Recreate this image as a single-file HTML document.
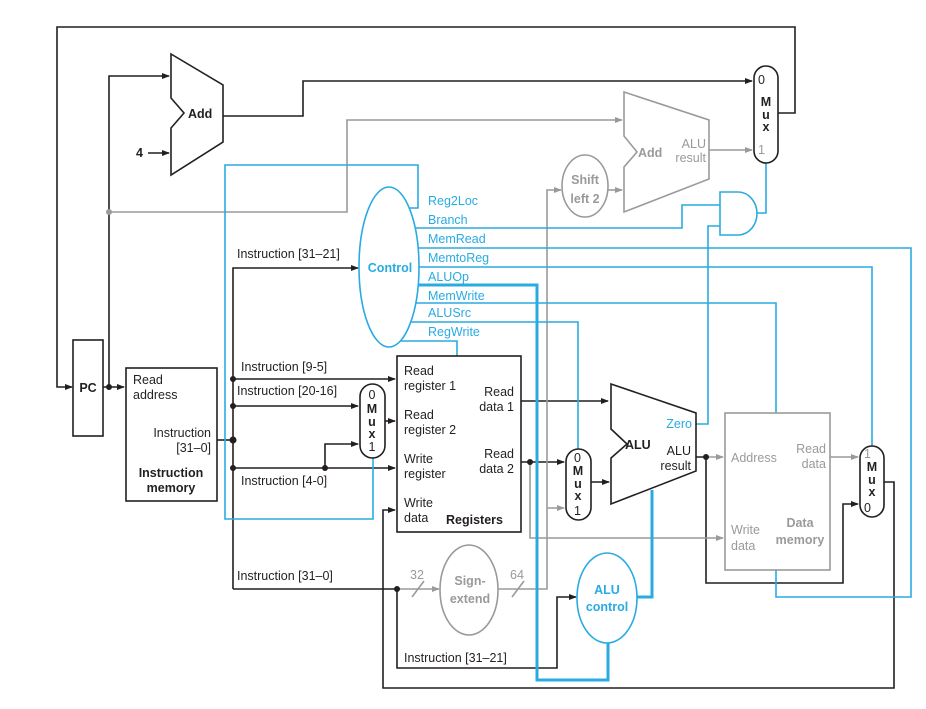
<!DOCTYPE html>
<html><head><meta charset="utf-8"><style>
html,body{margin:0;padding:0;background:#fff;}
svg{display:block;font-family:"Liberation Sans",Arial,sans-serif;}
.k{stroke:#231f20;stroke-width:1.6;fill:none}
.g{stroke:#9a9a9a;stroke-width:1.6;fill:none}
.b{stroke:#29abe2;stroke-width:1.6;fill:none}
.bt{stroke:#29abe2;stroke-width:3;fill:none}
text{font-size:12.5px;fill:#231f20}
.tb{fill:#29abe2}
.tg{fill:#9a9a9a}
.bold{font-weight:bold}
</style></head><body>
<svg width="926" height="709" viewBox="0 0 926 709" xmlns="http://www.w3.org/2000/svg">
<defs>
<marker id="ak" markerWidth="8" markerHeight="6" refX="7" refY="3" orient="auto" markerUnits="userSpaceOnUse"><path d="M0,0 L8,3 L0,6 Z" fill="#231f20"/></marker>
<marker id="ag" markerWidth="8" markerHeight="6" refX="7" refY="3" orient="auto" markerUnits="userSpaceOnUse"><path d="M0,0 L8,3 L0,6 Z" fill="#9a9a9a"/></marker>
</defs>

<!-- black wires -->
<path class="k" d="M778,113 H795 V27 H57 V387 H72" marker-end="url(#ak)"/>
<path class="k" d="M103,387 H124" marker-end="url(#ak)"/>
<path class="k" d="M109,387 V76 H169" marker-end="url(#ak)"/>
<path class="k" d="M148,153 H169" marker-end="url(#ak)"/>
<path class="k" d="M223,116 H303 V81 H752" marker-end="url(#ak)"/>
<path class="k" d="M217,440 H233"/>
<path class="k" d="M233,589 V268 H358" marker-end="url(#ak)"/>
<path class="k" d="M233,379 H395" marker-end="url(#ak)"/>
<path class="k" d="M233,406 H358" marker-end="url(#ak)"/>
<path class="k" d="M233,468 H395" marker-end="url(#ak)"/>
<path class="k" d="M325,468 V444 H358" marker-end="url(#ak)"/>
<path class="k" d="M385,421 H395" marker-end="url(#ak)"/>
<path class="k" d="M233,589 H397"/>
<path class="k" d="M397,589 V668 H557 V597 H576" marker-end="url(#ak)"/>
<path class="k" d="M884,482 H894 V688 H383 V510 H395" marker-end="url(#ak)"/>
<path class="k" d="M521,401 H608" marker-end="url(#ak)"/>
<path class="k" d="M521,462 H564" marker-end="url(#ak)"/>
<path class="k" d="M591,482 H609" marker-end="url(#ak)"/>
<path class="k" d="M696,457 H706 V583 H843 V504 H858" marker-end="url(#ak)"/>

<!-- gray wires -->
<path class="g" d="M109,212 H347 V120 H622" marker-end="url(#ag)"/>
<path class="g" d="M709,150 H752" marker-end="url(#ag)"/>
<path class="g" d="M608,190 H622" marker-end="url(#ag)"/>
<path class="g" d="M498,589 H547 V190 H561" marker-end="url(#ag)"/>
<path class="g" d="M547,508 H564" marker-end="url(#ag)"/>
<path class="g" d="M530,462 V538 H723" marker-end="url(#ag)"/>
<path class="g" d="M706,457 H723" marker-end="url(#ag)"/>
<path class="g" d="M830,457 H858" marker-end="url(#ag)"/>
<path class="g" d="M397,589 H439" marker-end="url(#ag)"/>
<path class="g" d="M412,597 L424,581 M512,597 L524,581"/>

<!-- blue wires -->
<path class="b" d="M410,208 H418 V165 H225 V519 H373 V458"/>
<path class="b" d="M405,228 H682 V205 H722"/>
<path class="b" d="M405,248 H911 V597 H776 V570"/>
<path class="b" d="M405,267 H872 V446"/>
<path class="bt" d="M405,285 H537 V680 H608 V642"/>
<path class="b" d="M405,303 H776 V413"/>
<path class="b" d="M405,322 H578 V449"/>
<path class="b" d="M395,341 H457 V356"/>
<path class="b" d="M696,424 H708 V226 H722"/>
<path class="b" d="M757,213 H766 V163"/>
<path class="bt" d="M652,490 V597 H637"/>

<!-- dots -->
<g fill="#231f20">
<circle cx="109" cy="387" r="3"/><circle cx="233" cy="440" r="3.5"/><circle cx="233" cy="379" r="3"/>
<circle cx="233" cy="406" r="3"/><circle cx="233" cy="468" r="3"/><circle cx="325" cy="468" r="3"/>
<circle cx="397" cy="589" r="3"/><circle cx="530" cy="462" r="3"/><circle cx="706" cy="457" r="3"/>
</g>
<circle cx="109" cy="212" r="3" fill="#9a9a9a"/>

<!-- PC -->
<rect x="73" y="340" width="30" height="96" fill="#fff" stroke="#231f20" stroke-width="1.6"/>
<text x="88" y="392" text-anchor="middle" class="bold">PC</text>

<!-- Add -->
<path d="M171,54 L223,85 L223,142 L171,175 L171,128 L184,113 L171,98 Z" fill="#fff" stroke="#231f20" stroke-width="1.6"/>
<text x="188" y="118" class="bold">Add</text>
<text x="136" y="157" class="bold">4</text>

<!-- Add2 gray -->
<path d="M624,92 L709,120 L709,179 L624,212 L624,167 L637,152 L624,136 Z" fill="#fff" stroke="#9a9a9a" stroke-width="1.6"/>
<text x="638" y="157" class="tg bold">Add</text>
<text x="706" y="148" text-anchor="end" class="tg">ALU</text>
<text x="706" y="162" text-anchor="end" class="tg">result</text>

<!-- Shift left 2 -->
<ellipse cx="585" cy="186" rx="23" ry="31" fill="#fff" stroke="#9a9a9a" stroke-width="1.6"/>
<text x="585" y="184" text-anchor="middle" class="tg bold">Shift</text>
<text x="585" y="203" text-anchor="middle" class="tg bold">left 2</text>

<!-- Mux top -->
<rect x="754" y="66" width="24" height="97" rx="12" fill="#fff" stroke="#231f20" stroke-width="1.6"/>
<text x="758" y="84">0</text>
<text x="766" y="106" text-anchor="middle" class="bold">M</text>
<text x="766" y="119" text-anchor="middle" class="bold">u</text>
<text x="766" y="131" text-anchor="middle" class="bold">x</text>
<text x="758" y="154" class="tg">1</text>

<!-- AND gate -->
<path d="M720,192 H738 A19,21.5 0 0 1 738,235 H720 Z" fill="#fff" stroke="#29abe2" stroke-width="1.6"/>

<!-- Control -->
<ellipse cx="389" cy="267" rx="30" ry="80" fill="#fff" stroke="#29abe2" stroke-width="1.6"/>
<text x="390" y="272" text-anchor="middle" class="tb bold">Control</text>
<g class="tb">
<text x="428" y="205" class="tb">Reg2Loc</text>
<text x="428" y="224" class="tb">Branch</text>
<text x="428" y="243" class="tb">MemRead</text>
<text x="428" y="262" class="tb">MemtoReg</text>
<text x="428" y="281" class="tb">ALUOp</text>
<text x="428" y="300" class="tb">MemWrite</text>
<text x="428" y="317" class="tb">ALUSrc</text>
<text x="428" y="336" class="tb">RegWrite</text>
</g>

<!-- Instruction labels -->
<text x="237" y="258">Instruction [31–21]</text>
<text x="241" y="371">Instruction [9-5]</text>
<text x="237" y="395">Instruction [20-16]</text>
<text x="241" y="485">Instruction [4-0]</text>
<text x="237" y="580">Instruction [31–0]</text>
<text x="404" y="662">Instruction [31–21]</text>
<text x="410" y="579" class="tg">32</text>
<text x="510" y="579" class="tg">64</text>

<!-- Instruction memory -->
<rect x="126" y="368" width="91" height="133" fill="#fff" stroke="#231f20" stroke-width="1.6"/>
<text x="133" y="384">Read</text>
<text x="133" y="399">address</text>
<text x="211" y="437" text-anchor="end">Instruction</text>
<text x="211" y="452" text-anchor="end">[31–0]</text>
<text x="171" y="477" text-anchor="middle" class="bold">Instruction</text>
<text x="171" y="492" text-anchor="middle" class="bold">memory</text>

<!-- Mux1 -->
<rect x="360" y="384" width="25" height="74" rx="12.5" fill="#fff" stroke="#231f20" stroke-width="1.6"/>
<text x="372" y="399" text-anchor="middle">0</text>
<text x="372" y="413" text-anchor="middle" class="bold">M</text>
<text x="372" y="426" text-anchor="middle" class="bold">u</text>
<text x="372" y="438" text-anchor="middle" class="bold">x</text>
<text x="372" y="451" text-anchor="middle">1</text>

<!-- Registers -->
<rect x="397" y="356" width="124" height="176" fill="#fff" stroke="#231f20" stroke-width="1.6"/>
<text x="404" y="375">Read</text><text x="404" y="390">register 1</text>
<text x="404" y="419">Read</text><text x="404" y="434">register 2</text>
<text x="404" y="463">Write</text><text x="404" y="478">register</text>
<text x="404" y="507">Write</text><text x="404" y="522">data</text>
<text x="446" y="524" class="bold">Registers</text>
<text x="514" y="396" text-anchor="end">Read</text><text x="514" y="411" text-anchor="end">data 1</text>
<text x="514" y="458" text-anchor="end">Read</text><text x="514" y="473" text-anchor="end">data 2</text>

<!-- Mux2 -->
<rect x="566" y="449" width="25" height="71" rx="12.5" fill="#fff" stroke="#231f20" stroke-width="1.6"/>
<text x="574" y="462">0</text>
<text x="578" y="475" text-anchor="middle" class="bold">M</text>
<text x="578" y="488" text-anchor="middle" class="bold">u</text>
<text x="578" y="500" text-anchor="middle" class="bold">x</text>
<text x="574" y="515">1</text>

<!-- Sign extend -->
<ellipse cx="469" cy="590" rx="29" ry="45" fill="#fff" stroke="#9a9a9a" stroke-width="1.6"/>
<text x="470" y="585" text-anchor="middle" class="tg bold">Sign-</text>
<text x="470" y="603" text-anchor="middle" class="tg bold">extend</text>

<!-- ALU -->
<path d="M611,384 L696,413 L696,471 L611,504 L611,458 L627,444 L611,429 Z" fill="#fff" stroke="#231f20" stroke-width="1.6"/>
<text x="625" y="449" class="bold">ALU</text>
<text x="692" y="428" text-anchor="end" class="tb">Zero</text>
<text x="691" y="455" text-anchor="end">ALU</text>
<text x="691" y="470" text-anchor="end">result</text>

<!-- ALU control -->
<ellipse cx="607" cy="598" rx="30" ry="45" fill="#fff" stroke="#29abe2" stroke-width="1.6"/>
<text x="607" y="594" text-anchor="middle" class="tb bold">ALU</text>
<text x="607" y="611" text-anchor="middle" class="tb bold">control</text>

<!-- Data memory -->
<rect x="725" y="413" width="105" height="157" fill="#fff" stroke="#9a9a9a" stroke-width="1.6"/>
<text x="731" y="462" class="tg">Address</text>
<text x="826" y="453" text-anchor="end" class="tg">Read</text>
<text x="826" y="468" text-anchor="end" class="tg">data</text>
<text x="731" y="534" class="tg">Write</text>
<text x="731" y="550" class="tg">data</text>
<text x="800" y="527" text-anchor="middle" class="tg bold">Data</text>
<text x="800" y="544" text-anchor="middle" class="tg bold">memory</text>

<!-- Mux3 -->
<rect x="860" y="446" width="24" height="71" rx="12" fill="#fff" stroke="#231f20" stroke-width="1.6"/>
<text x="864" y="458" class="tg">1</text>
<text x="872" y="471" text-anchor="middle" class="bold">M</text>
<text x="872" y="484" text-anchor="middle" class="bold">u</text>
<text x="872" y="496" text-anchor="middle" class="bold">x</text>
<text x="864" y="512">0</text>
</svg>
</body></html>
